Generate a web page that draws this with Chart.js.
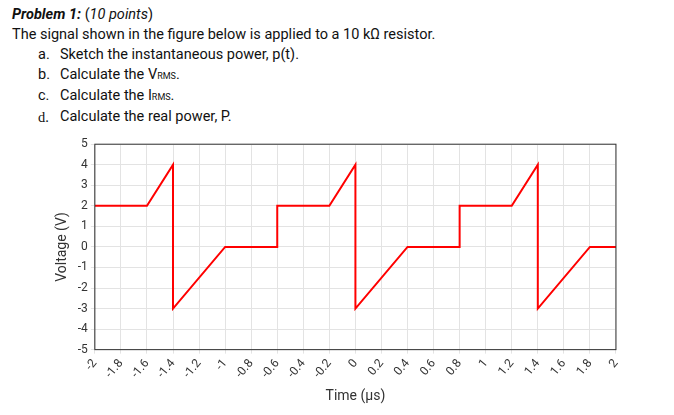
<!DOCTYPE html>
<html><head><meta charset="utf-8">
<script src="https://cdn.jsdelivr.net/npm/chart.js@4"></script>
<style>
body{margin:0;background:#fff;font-family:Roboto,sans-serif;color:#111;}
#txt{position:absolute;left:12px;top:5px;font-size:14.5px;line-height:20px;}
#txt .i{padding-left:48px;position:relative}
#txt .i b{font-weight:normal;position:absolute;left:26px}
sub{font-size:9px;vertical-align:baseline}
#wrap{position:absolute;left:50px;top:134px;width:580px;height:281px;}
</style></head><body>
<div id="txt">
<div><i><b style="font-weight:bold">Problem 1:</b></i> (<i>10 points</i>)</div>
<div>The signal shown in the figure below is applied to a 10 kΩ resistor.</div>
<div class="i"><b>a.</b>Sketch the instantaneous power, p(t).</div>
<div class="i"><b>b.</b>Calculate the V<sub>RMS</sub>.</div>
<div class="i"><b>c.</b>Calculate the I<sub>RMS</sub>.</div>
<div class="i"><b style="font-family:'Liberation Serif',serif">d.</b>Calculate the real power, P.</div>
</div>
<div id="wrap"><canvas id="myChart"></canvas></div>
<script>
const timeUs = [-2, -1.6, -1.4, -1.4, -1, -0.6, -0.6, -0.2, 0, 0, 0.4, 0.8, 0.8, 1.2, 1.4, 1.4, 1.8, 2];
const voltage = [2, 2, 4, -3, 0, 0, 2, 2, 4, -3, 0, 0, 2, 2, 4, -3, 0, 0];

const points = timeUs.map((t, i) => ({ x: t, y: voltage[i] }));

// box around the plot area
const frame = {
    id: 'frame',
    afterDraw(chart) {
        const a = chart.chartArea, c = chart.ctx;
        c.save();
        c.strokeStyle = '#333';
        c.lineWidth = 1;
        c.strokeRect(a.left, a.top, a.right - a.left, a.bottom - a.top);
        c.restore();
    }
};

const ctx = document.getElementById('myChart').getContext('2d');
new Chart(ctx, {
    type: 'scatter',
    data: {
        datasets: [{
            data: points,
            showLine: true,
            borderColor: '#ff0000',
            borderWidth: 2,
            pointRadius: 0,
            tension: 0
        }]
    },
    plugins: [frame],
    options: {
        responsive: true,
        maintainAspectRatio: false,
        animation: false,
        layout: { padding: { bottom: 6, right: 6 } },
        plugins: { legend: { display: false }, tooltip: { enabled: false } },
        scales: {
            x: {
                min: -2, max: 2,
                ticks: {
                    stepSize: 0.2, minRotation: 50, maxRotation: 50,
                    color: '#333', font: { family: 'Roboto', size: 12 },
                    callback: v => String(Math.round(v * 10) / 10)
                },
                grid: { color: '#e3e3e3', tickLength: 4 },
                title: { display: true, text: 'Time (μs)', color: '#333', font: { family: 'Roboto', size: 14 } }
            },
            y: {
                min: -5, max: 5,
                ticks: { stepSize: 1, color: '#333', font: { family: 'Roboto', size: 12 } },
                grid: { color: '#e3e3e3', tickLength: 4 },
                title: { display: true, text: 'Voltage (V)', color: '#333', font: { family: 'Roboto', size: 14 } }
            }
        }
    }
});
</script>
</body></html>
